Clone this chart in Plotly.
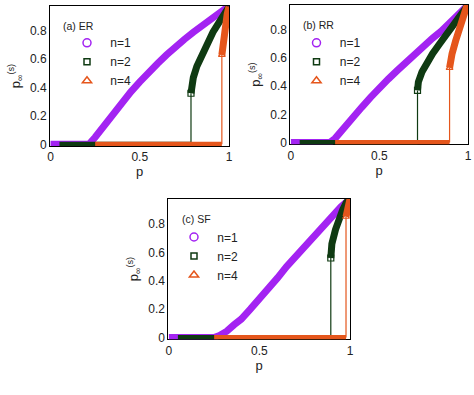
import plotly.graph_objects as go

# ---------------- data ----------------
# (a) ER
ER_n1_p = [0.0, 0.05, 0.10, 0.15, 0.20, 0.215, 0.25, 0.28, 0.30, 0.35, 0.40, 0.45, 0.50, 0.55,
           0.60, 0.65, 0.70, 0.75, 0.80, 0.85, 0.90, 0.95, 1.00]
ER_n1_P = [0, 0, 0, 0, 0, 0.0, 0.05, 0.10, 0.14, 0.22, 0.30, 0.37, 0.44, 0.51,
           0.57, 0.63, 0.69, 0.74, 0.79, 0.84, 0.88, 0.93, 0.975]
ER_n2_p = [0.787, 0.79, 0.80, 0.82, 0.85, 0.88, 0.91, 0.94, 0.97, 1.00]
ER_n2_P = [0.36, 0.42, 0.47, 0.55, 0.64, 0.72, 0.79, 0.85, 0.91, 0.97]
ER_n4_p = [0.96, 0.965, 0.97, 0.98, 0.99, 1.00]
ER_n4_P = [0.63, 0.70, 0.76, 0.85, 0.92, 0.97]

# (b) RR
RR_n1_p = [0.0, 0.05, 0.10, 0.15, 0.20, 0.22, 0.25, 0.30, 0.35, 0.40, 0.45, 0.50, 0.55,
           0.60, 0.65, 0.70, 0.75, 0.80, 0.85, 0.90, 0.95, 1.00]
RR_n1_P = [0, 0, 0, 0, 0, 0, 0.03, 0.11, 0.18, 0.25, 0.32, 0.39, 0.45,
           0.51, 0.57, 0.63, 0.68, 0.74, 0.79, 0.85, 0.91, 0.975]
RR_n2_p = [0.715, 0.72, 0.74, 0.77, 0.80, 0.84, 0.88, 0.92, 0.96, 1.00]
RR_n2_P = [0.37, 0.43, 0.50, 0.57, 0.63, 0.70, 0.77, 0.84, 0.91, 0.975]
RR_n4_p = [0.896, 0.90, 0.91, 0.93, 0.95, 0.97, 0.99, 1.00]
RR_n4_P = [0.53, 0.58, 0.63, 0.72, 0.81, 0.89, 0.955, 0.975]

# (c) SF
SF_n1_p = [0.0, 0.05, 0.10, 0.15, 0.20, 0.25, 0.28, 0.32, 0.36, 0.40, 0.45, 0.50, 0.55,
           0.60, 0.65, 0.70, 0.75, 0.80, 0.85, 0.90, 0.95, 1.00]
SF_n1_P = [0, 0, 0, 0, 0, 0, 0.015, 0.045, 0.09, 0.13, 0.20, 0.27, 0.345,
           0.42, 0.50, 0.57, 0.65, 0.72, 0.79, 0.86, 0.92, 0.975]
SF_n2_p = [0.894, 0.90, 0.92, 0.94, 0.96, 0.98, 1.00]
SF_n2_P = [0.56, 0.66, 0.76, 0.84, 0.90, 0.95, 0.98]
SF_n4_p = [0.978, 0.985, 0.99, 1.00]
SF_n4_P = [0.85, 0.90, 0.94, 0.975]

# p where the zero plateau of each series begins
N2_ZERO_START = 0.05
N4_ZERO_START = 0.25

PANEL_LABELS = ["(a) ER", "(b) RR", "(c) SF"]
SERIES_NAMES = ["n=1", "n=2", "n=4"]
X_TICKS = [0, 0.5, 1]
Y_TICKS = [0, 0.2, 0.4, 0.6, 0.8]

# ---------------- style ----------------
PURPLE = "#a323f2"
GREEN = "#0f3a12"
ORANGE = "#e5561c"
FONT = "Liberation Sans, Arial, sans-serif"

fig = go.Figure()

panels = [
    dict(label=PANEL_LABELS[0], n1=(ER_n1_p, ER_n1_P), n2=(ER_n2_p, ER_n2_P), n4=(ER_n4_p, ER_n4_P)),
    dict(label=PANEL_LABELS[1], n1=(RR_n1_p, RR_n1_P), n2=(RR_n2_p, RR_n2_P), n4=(RR_n4_p, RR_n4_P)),
    dict(label=PANEL_LABELS[2], n1=(SF_n1_p, SF_n1_P), n2=(SF_n2_p, SF_n2_P), n4=(SF_n4_p, SF_n4_P)),
]

# pixel layout (474 x 395)
W, H = 474, 395
boxes = [  # left, right, top, bottom in px
    (50, 229, 6, 146),
    (290.3, 468, 5, 144.3),
    (168.3, 350, 199, 339.3),
]
legend_pos = [(67, 28.3), (296.5, 28.3), (174, 222.5)]
label_pos = [0.86, 0.855, 0.86]

BAND = 7
ZERO_BAND = 5

for i, pan in enumerate(panels):
    sfx = "" if i == 0 else str(i + 1)
    xa, ya = "x" + sfx, "y" + sfx
    leg = "legend" if i == 0 else "legend" + str(i + 1)

    # n=1 continuous curve
    p1, P1 = pan["n1"]
    fig.add_trace(go.Scatter(x=p1, y=P1, xaxis=xa, yaxis=ya, mode="lines",
                             line=dict(color=PURPLE, width=BAND), showlegend=False,
                             cliponaxis=False))

    for key, col, sym, z0 in [("n2", GREEN, "square-open", N2_ZERO_START),
                              ("n4", ORANGE, "triangle-up-open", N4_ZERO_START)]:
        pp, PP = pan[key]
        pc = pp[0]
        # zero plateau
        fig.add_trace(go.Scatter(x=[z0, pc], y=[0, 0], xaxis=xa, yaxis=ya, mode="lines",
                                 line=dict(color=col, width=ZERO_BAND), showlegend=False))
        # jump
        fig.add_trace(go.Scatter(x=[pc, pc], y=[0, PP[0]], xaxis=xa, yaxis=ya, mode="lines",
                                 line=dict(color=col, width=1.2), showlegend=False))
        # upper branch
        fig.add_trace(go.Scatter(x=pp, y=PP, xaxis=xa, yaxis=ya, mode="lines",
                                 line=dict(color=col, width=BAND), showlegend=False,
                                 cliponaxis=False))
        # open marker at the jump point
        fig.add_trace(go.Scatter(x=pp[:1], y=PP[:1], xaxis=xa, yaxis=ya, mode="markers",
                                 marker=dict(symbol=sym, size=6, color=col,
                                             line=dict(width=1.2, color=col)),
                                 showlegend=False, cliponaxis=False))

    # legend entries
    for name, col, sym, sz in [(SERIES_NAMES[0], PURPLE, "circle-open", 8),
                               (SERIES_NAMES[1], GREEN, "square-open", 6),
                               (SERIES_NAMES[2], ORANGE, "triangle-up-open", 8)]:
        fig.add_trace(go.Scatter(x=[None], y=[None], xaxis=xa, yaxis=ya, mode="markers",
                                 name="&nbsp;" + name, legend=leg,
                                 marker=dict(symbol=sym, size=sz, color=col,
                                             line=dict(width=1.5, color=col))))

    l, r, t, b = boxes[i]
    axis_common = dict(showline=True, mirror=True, linecolor="black", linewidth=1,
                       showgrid=False, zeroline=False, ticks="", layer="below traces",
                       automargin=False, ticklabeloverflow="allow",
                       tickfont=dict(family=FONT, size=12, color="#222"))
    fig.layout["xaxis" + sfx] = dict(
        domain=[l / W, r / W], anchor=ya, range=[-0.003, 1.0], tickvals=X_TICKS,
        title=dict(text="p", font=dict(family=FONT, size=13, color="#222"), standoff=2),
        **axis_common)
    fig.layout["yaxis" + sfx] = dict(
        domain=[(H - b) / H, (H - t) / H], anchor=xa, range=[-0.012, 0.975], tickvals=Y_TICKS,
        title=dict(text="p<sub>∞</sub><sup>(s)</sup>", font=dict(family=FONT, size=13, color="#222"),
                   standoff=6),
        **axis_common)

    lx, ly = legend_pos[i]
    fig.layout[leg] = dict(x=lx / W, y=(H - ly) / H, xanchor="left", yanchor="top",
                           bgcolor="rgba(0,0,0,0)", borderwidth=0, itemwidth=30,
                           font=dict(family=FONT, size=12, color="#222"))

    fig.add_annotation(xref=xa + " domain", yref=ya + " domain", x=0.062, y=label_pos[i],
                       xanchor="left", yanchor="middle", text=pan["label"], showarrow=False,
                       font=dict(family=FONT, size=10.5, color="#222"))

fig.update_layout(width=W, height=H, margin=dict(l=0, r=0, t=0, b=0),
                  paper_bgcolor="white", plot_bgcolor="white", showlegend=True)

fig.write_html("out.html", config={"displayModeBar": False},
               post_script="document.body.style.margin='0';document.body.style.overflow='hidden';")
